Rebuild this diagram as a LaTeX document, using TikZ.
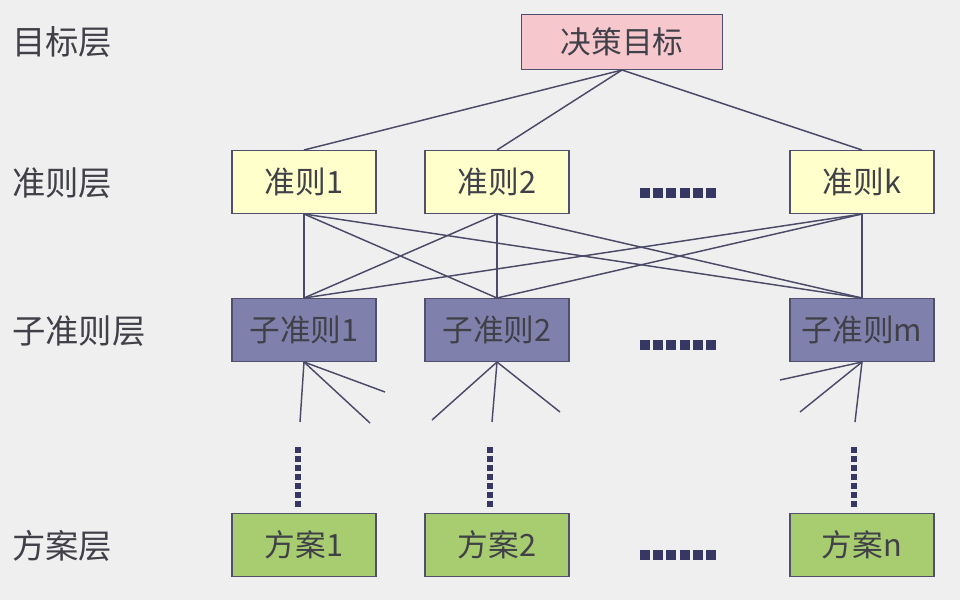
\documentclass[tikz,border=0pt]{standalone}
\usepackage{fontspec}
\setmainfont{Noto Sans CJK SC}
\definecolor{bgGray}{RGB}{239,239,239}
\definecolor{edgeNavy}{RGB}{80,80,110}
\definecolor{lineNavy}{RGB}{75,75,105}
\definecolor{dotNavy}{RGB}{55,55,100}
\definecolor{textGray}{RGB}{64,64,72}
\definecolor{goalPink}{RGB}{246,200,206}
\definecolor{critYellow}{RGB}{255,255,204}
\definecolor{subPurple}{RGB}{128,128,172}
\definecolor{altGreen}{RGB}{168,204,112}
\begin{document}
\begin{tikzpicture}[x=0.75pt,y=0.75pt,yscale=-1,xscale=1,
  box/.style={draw=edgeNavy,line width=1pt,minimum width=108pt,minimum height=47pt,inner sep=0pt,text=textGray,font=\fontsize{23}{23}\selectfont},
  goalbox/.style={box,fill=goalPink,minimum width=151pt,minimum height=41pt},
  critbox/.style={box,fill=critYellow},
  subbox/.style={box,fill=subPurple},
  altbox/.style={box,fill=altGreen},
  layer/.style={anchor=west,inner sep=0pt,text=textGray,font=\fontsize{25}{25}\selectfont},
  link/.style={draw=lineNavy,line width=1.1pt},
  vdots/.style={draw=dotNavy,line width=4.5pt,dash pattern=on 4.5pt off 2.2pt},
  hdots/.style={draw=dotNavy,line width=7pt,dash pattern=on 7.5pt off 2.4pt}
]
% background
\fill[bgGray] (0,0) rectangle (960,600);

% layer labels
\node[layer] (L1) at (12,42) {目标层};
\node[layer] (L2) at (12,183) {准则层};
\node[layer] (L3) at (12,331) {子准则层};
\node[layer] (L4) at (12,546) {方案层};

% boxes
\node[goalbox] (goal) at (622,42) {决策目标};
\node[critbox] (c1) at (304,182) {准则1};
\node[critbox] (c2) at (497,182) {准则2};
\node[critbox] (ck) at (862,182) {准则k};
\node[subbox] (s1) at (304,330) {子准则1};
\node[subbox] (s2) at (497,330) {子准则2};
\node[subbox] (sm) at (862,330) {子准则m};
\node[altbox] (a1) at (304,545) {方案1};
\node[altbox] (a2) at (497,545) {方案2};
\node[altbox] (an) at (862,545) {方案n};

% ellipses
\node[inner sep=0pt] (d1) at (678,193) {};
\node[inner sep=0pt] (d2) at (678,345) {};
\node[inner sep=0pt] (d3) at (678,555) {};
\foreach \d in {d1,d2,d3}
  \draw[hdots] ([xshift=-28.5pt]\d.center) -- ([xshift=28.5pt]\d.center);

% goal to criteria
\foreach \c in {c1,c2,ck}
  \draw[link] (goal.south) -- (\c.north);

% criteria to sub-criteria
\foreach \c in {c1,c2,ck}
  \foreach \s in {s1,s2,sm}
    \draw[link] (\c.south) -- (\s.north);

% sub-criteria fans
\coordinate (f1a) at (300,422);
\coordinate (f1b) at (385,392);
\coordinate (f1c) at (370,423);
\coordinate (f2a) at (492,422);
\coordinate (f2b) at (432,420);
\coordinate (f2c) at (560,412);
\coordinate (fma) at (855,422);
\coordinate (fmb) at (780,380);
\coordinate (fmc) at (800,412);
\foreach \s/\n in {s1/1,s2/2,sm/m}{
  \draw[link] (\s.south) -- (f\n a);
  \draw[link] (\s.south) -- (f\n b);
  \draw[link] (\s.south) -- (f\n c);
}

% dotted drops
\draw[vdots] (298,447) -- (298,508);
\draw[vdots] (490,447) -- (490,508);
\draw[vdots] (854,447) -- (854,508);
\end{tikzpicture}
\end{document}
